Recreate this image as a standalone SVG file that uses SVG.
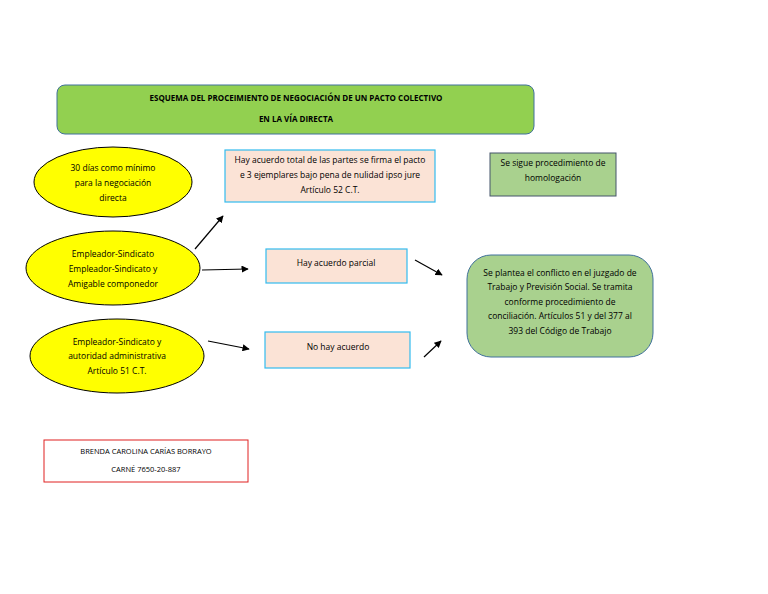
<svg xmlns="http://www.w3.org/2000/svg" width="768" height="594" viewBox="0 0 768 594">
<style>
text{font-family:"Open Sans","Liberation Sans",sans-serif;font-size:8.5px;text-anchor:middle;fill:#000}
.b{font-weight:bold;font-size:8px}
.ell{fill:#ffff00;stroke:#000;stroke-width:1}
.pk{fill:#fbe3d6;stroke:#33bbee;stroke-width:1.2}
.c line{stroke:#000;stroke-width:1.2;marker-end:url(#a)}
</style>
<defs><marker id="a" viewBox="0 0 10 10" refX="9" refY="5" markerWidth="6" markerHeight="6" orient="auto"><path d="M0,0L10,5L0,10z" fill="#000"/></marker></defs>
<rect width="768" height="594" fill="#fff"/>
<g id="title"><rect x="57" y="85" width="477" height="49" rx="8" fill="#92d050" stroke="#41719c"/>
<text class="b" x="296" y="101">ESQUEMA DEL PROCEIMIENTO DE NEGOCIACIÓN DE UN PACTO COLECTIVO</text>
<text class="b" x="296" y="122">EN LA VÍA DIRECTA</text></g>
<g id="e1"><ellipse class="ell" cx="113" cy="182" rx="79" ry="35"/>
<text x="113" y="171">30 días como mínimo</text><text x="113" y="186">para la negociación</text><text x="113" y="201">directa</text></g>
<g id="e2"><ellipse class="ell" cx="113" cy="268" rx="87" ry="37"/>
<text x="113" y="257">Empleador-Sindicato</text><text x="113" y="272">Empleador-Sindicato y</text><text x="113" y="287">Amigable componedor</text></g>
<g id="e3"><ellipse class="ell" cx="117" cy="356" rx="87" ry="37"/>
<text x="117" y="345">Empleador-Sindicato y</text><text x="117" y="359">autoridad administrativa</text><text x="117" y="374">Artículo 51 C.T.</text></g>
<g id="total"><rect class="pk" x="225" y="150" width="210" height="52"/>
<text x="330" y="163">Hay acuerdo total de las partes se firma el pacto</text><text x="330" y="178">e 3 ejemplares bajo pena de nulidad ipso jure</text><text x="330" y="193">Artículo 52 C.T.</text></g>
<g id="homo"><rect x="490" y="153" width="126" height="43" fill="#a9d18e" stroke="#44546a"/>
<text x="553" y="166">Se sigue procedimiento de</text><text x="553" y="181">homologación</text></g>
<g id="parcial"><rect class="pk" x="266" y="249" width="141" height="34"/><text x="336" y="266">Hay acuerdo parcial</text></g>
<g id="no"><rect class="pk" x="265" y="332" width="145" height="36"/><text x="338" y="350">No hay acuerdo</text></g>
<g id="conf"><rect x="467" y="255" width="186" height="102" rx="24" fill="#a9d18e" stroke="#41719c"/>
<text x="560" y="276">Se plantea el conflicto en el juzgado de</text><text x="560" y="290">Trabajo y Previsión Social. Se tramita</text><text x="560" y="305">conforme procedimiento de</text><text x="560" y="319">conciliación. Artículos 51 y del 377 al</text><text x="560" y="334">393 del Código de Trabajo</text></g>
<g id="author"><rect x="44" y="440" width="204" height="42" fill="#fff" stroke="#e02020"/>
<text x="146" y="454" style="font-size:7.5px">BRENDA CAROLINA CARÍAS BORRAYO</text><text x="146" y="472" style="font-size:7.5px">CARNÉ 7650-20-887</text></g>
<g class="c" id="connectors">
<line x1="195" y1="249" x2="223" y2="216"/>
<line x1="202" y1="270" x2="248" y2="269"/>
<line x1="208" y1="341" x2="249" y2="349"/>
<line x1="415" y1="260" x2="442" y2="275"/>
<line x1="424" y1="357" x2="441" y2="341"/>
</g>
</svg>
